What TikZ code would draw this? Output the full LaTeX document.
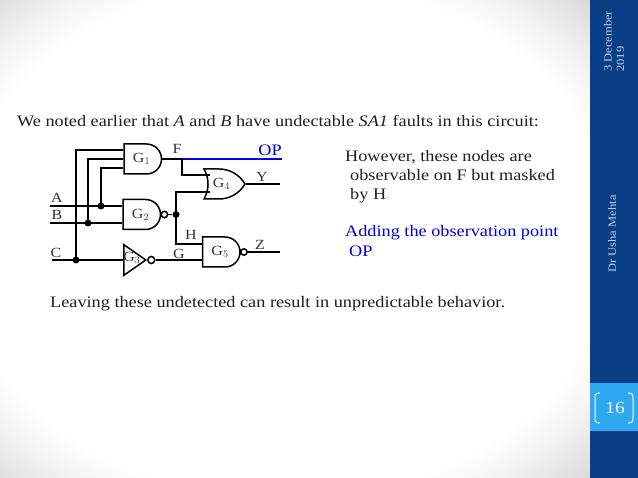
\documentclass[tikz,border=0pt]{standalone}
\usepackage{fontspec}
\setmainfont[FakeStretch=1.14]{Liberation Serif}
\usepackage{xcolor}
\usetikzlibrary{calc,positioning,shapes.geometric,shapes.gates.logic.US}
\definecolor{sidenavy}{HTML}{0A3F86}
\definecolor{sidesky}{HTML}{2EA8F0}
\definecolor{sidetext}{HTML}{B9D2EE}
\definecolor{oppath}{HTML}{0000E0}
\pgfdeclareradialshading{slideback}{\pgfpointorigin}{color(0bp)=(white);color(27bp)=(white);color(30bp)=(black!4);color(35.5bp)=(black!15);color(50bp)=(black!15)}
\begin{document}
\begin{tikzpicture}[x=1pt,y=-1pt,
                gate/.style={draw,line width=1.5pt,inner sep=0pt,font=\fontsize{14}{14}\selectfont,text=black!80},
                andgate/.style={and gate US,gate,logic gate inputs=nnn,logic gate input sep=7.5pt,minimum height=30pt,minimum width=32pt},
                nandgate/.style={nand gate US,gate,logic gate inputs=nn,logic gate input sep=10pt,minimum height=30pt,minimum width=32pt,logic gate inverted radius=3.2pt},
                orgate/.style={or gate US,gate,logic gate inputs=nn,logic gate input sep=10pt,minimum height=30pt,minimum width=38pt},
                notgate/.style={isosceles triangle,isosceles triangle apex angle=70,gate,minimum height=22pt},
                bubble/.style={circle,draw,line width=1.5pt,inner sep=0pt,minimum size=7pt},
                wire/.style={line width=1.5pt},
                joint/.style={circle,fill=black,inner sep=0pt,minimum size=7pt},
                siglabel/.style={font=\fontsize{14}{14}\selectfont,text=black!80},
                slidetext/.style={font=\fontsize{16}{18}\selectfont,text=black!88,anchor=base west,inner sep=0pt},
                sidelabel/.style={font=\fontsize{11}{12.5}\selectfont,text=sidetext,rotate=90,align=left,inner sep=0pt}]
    \useasboundingbox (0,0) rectangle (638,478);
    % page
    \begin{scope}
        \clip (0,0) rectangle (590,478);
        \fill[shading=slideback] (-20,0) rectangle (590,478);
    \end{scope}
    \fill[white] (0,112) rectangle (576,322);
    \fill[sidenavy] (590,0) rectangle (638,478);
    \fill[sidesky] (590,383) rectangle (638,431);
    \node[sidelabel,anchor=west] (datelabel) at (614,72) {3 December\\2019};
    \node[sidelabel] (namelabel) at (612,234) {Dr Usha Mehta};
    \node[font=\fontsize{17}{17}\selectfont,text=white] (pagenum) at (615,408) {16};
    \draw[white,line width=1pt] (600,393) .. controls (595,393) and (595,395) .. (595,399) -- (595,417) .. controls (595,421) and (595,423) .. (600,423);
    \draw[white,line width=1pt] (628,393) .. controls (633,393) and (633,395) .. (633,399) -- (633,417) .. controls (633,421) and (633,423) .. (628,423);
    % text
    \node[slidetext] (intro) at (17,127) {We noted earlier that \textit{A} and \textit{B} have undectable \textit{SA1} faults in this circuit:};
    \node[slidetext] (note1) at (345,162) {However, these nodes are};
    \node[slidetext] (note2) at (350,181) {observable on F but masked};
    \node[slidetext] (note3) at (350,200) {by H};
    \node[slidetext,text=oppath] (note4) at (345,237) {Adding the observation point};
    \node[slidetext,text=oppath] (note5) at (349,257) {OP};
    \node[slidetext] (outro) at (50,308) {Leaving these undetected can result in unpredictable behavior.};
    % gates
    \node[andgate] (G1) at (141.5,159) {G$_1$};
    \node[nandgate] (G2) at (140.5,214.5) {G$_2$};
    \node[notgate,anchor=lower side,label={[siglabel,yshift=2pt]center:G$_3$}] (G3) at (123,260) {};
    \node[bubble,right=0pt of G3.apex] (G3b) {};
    \node[orgate] (G4) at (221.5,184) {G$_4$};
    \node[nandgate] (G5) at (220,252) {G$_5$};
    % free ends
    \coordinate (A) at (50,206);
    \coordinate (B) at (50,223);
    \coordinate (C) at (52,260);
    \coordinate (Yend) at (280,184);
    \coordinate (Zend) at (280,252);
    \coordinate (OPend) at (282,159);
    \node[joint] (jA) at (101,206) {};
    \node[joint] (jB) at (88,223) {};
    \node[joint] (jC) at (76,260) {};
    \node[joint] (jH) at (176,214.5) {};
    \coordinate (jF) at (182,159);
    % wires
    \draw[wire] (A) -- (A -| G2.west);
    \draw[wire] (B) -- (B -| G2.west);
    \draw[wire] (C) -- (C -| G3.lower side);
    \draw[wire] (jC.center) |- ([yshift=9pt]G1.west);
    \draw[wire] (jB.center) |- (G1.west);
    \draw[wire] (jA.center) |- ([yshift=-9pt]G1.west);
    \draw[wire] (G1.output) -- (jF);
    \draw[oppath,line width=2pt] (jF) -- (OPend);
    \draw[wire] (jF) |- ([shift={(3pt,9pt)}]G4.west);
    \draw[wire] (G2.output) -- (jH);
    \draw[wire] (jH.center) |- ([shift={(3pt,-8pt)}]G4.west);
    \draw[wire] (jH.center) |- ([yshift=8pt]G5.west);
    \draw[wire] (G3b.east) -- (G3b.east -| G5.west);
    \draw[wire] (G4.output) -- (Yend);
    \draw[wire] (G5.output) -- (Zend);
    % signals
    \node[siglabel] (lF) at (177,149) {F};
    \node[siglabel,text=oppath,font=\fontsize{16}{16}\selectfont] (lOP) at (270,150) {OP};
    \node[siglabel] (lY) at (262,177) {Y};
    \node[siglabel] (lA) at (57,198) {A};
    \node[siglabel] (lB) at (57,215) {B};
    \node[siglabel] (lC) at (56,253) {C};
    \node[siglabel] (lH) at (191,235) {H};
    \node[siglabel] (lG) at (179,254) {G};
    \node[siglabel] (lZ) at (260,245) {Z};
\end{tikzpicture}
\end{document}
